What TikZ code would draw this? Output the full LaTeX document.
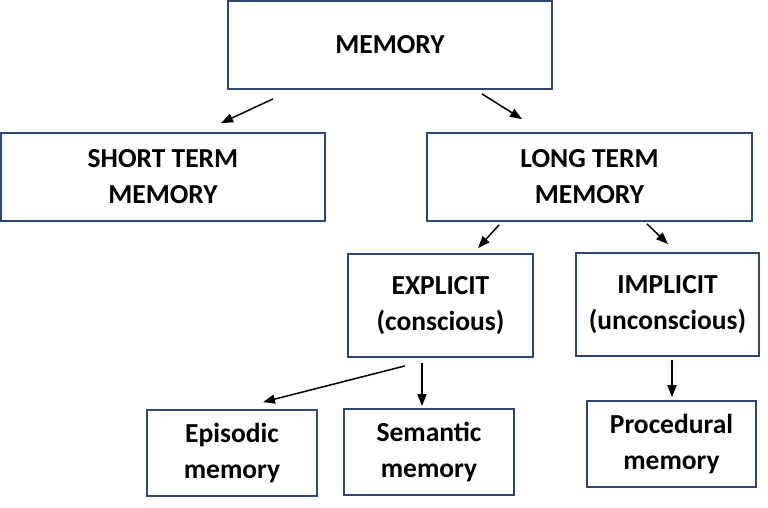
\documentclass[tikz,border=0pt]{standalone}
\usepackage{xcolor}
\usepackage{fontspec}
\setmainfont{Carlito}
\usepackage{tikz}
\usetikzlibrary{positioning,arrows.meta}
\definecolor{boxline}{RGB}{44,70,120}

\begin{document}
\begin{tikzpicture}[x=1pt,y=-1pt,>={Triangle[length=12pt,width=9pt]}]
        \tikzstyle{box}=[draw=boxline,line width=1.8pt,fill=white,inner sep=0pt,align=center,
            font=\fontsize{27.5}{36}\selectfont\bfseries]
        \tikzstyle{link}=[->,line width=1.5pt,black]
        \useasboundingbox (0,0) rectangle (768,507);
        \node[box,minimum width=324pt,minimum height=88pt] (Mem) at (390,45) {MEMORY};
        \node[box,minimum width=324pt,minimum height=88pt] (Stm) at (163,177) {SHORT TERM\\MEMORY};
        \node[box,minimum width=325pt,minimum height=88pt] (Ltm) at (589.5,177) {LONG TERM\\MEMORY};
        \node[box,minimum width=185pt,minimum height=103pt] (Expl) at (440.5,305.5) {EXPLICIT\\(conscious)};
        \node[box,minimum width=183pt,minimum height=103pt] (Impl) at (667.5,304.5) {IMPLICIT\\(unconscious)};
        \node[box,minimum width=170pt,minimum height=86pt] (Epi) at (232,453) {Episodic\\memory};
        \node[box,minimum width=170pt,minimum height=86pt] (Sem) at (429,452) {Semantic\\memory};
        \node[box,minimum width=169pt,minimum height=86pt] (Proc) at (671.5,444) {Procedural\\memory};
        \draw[link] ([shift={(-117,9)}]Mem.south) -- ([shift={(58,-9)}]Stm.north);
        \draw[link] ([shift={(92,4)}]Mem.south) -- ([shift={(-67.5,-13)}]Ltm.north);
        \draw[link] ([shift={(-90.5,3)}]Ltm.south) -- ([shift={(37.5,-5)}]Expl.north);
        \draw[link] ([shift={(57.5,2)}]Ltm.south) -- ([shift={(0.5,-8)}]Impl.north);
        \draw[link] ([shift={(-35.5,8)}]Expl.south) -- ([shift={(31,-7)}]Epi.north);
        \draw[link] ([shift={(-18.5,5)}]Expl.south) -- ([shift={(-7,-2)}]Sem.north);
        \draw[link] ([shift={(4.5,3)}]Impl.south) -- ([shift={(0.5,-3)}]Proc.north);
    \end{tikzpicture}
\end{document}
